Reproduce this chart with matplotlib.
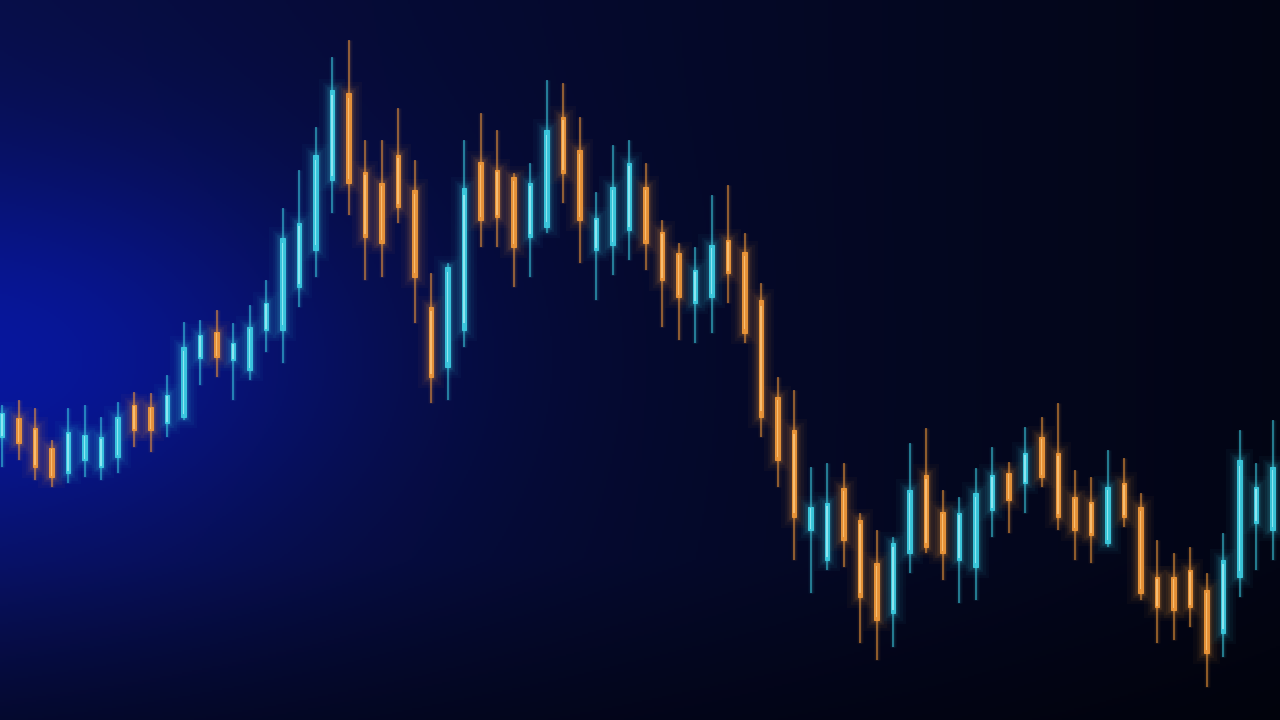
import numpy as np
import matplotlib
matplotlib.use("Agg")
import matplotlib.pyplot as plt

# Candle data (price units = 720 - pixel row of reference), one entry per candle
# "u" = rising (cyan) candle, "d" = falling (orange) candle
direction = ("u d d d u u u u d d  u u u d u u u u u u  "
             "u d d d d d d u u d  d d u u d d u u u d  "
             "d d u u d d d d d u  u d d d u u d d u u  "
             "u d u d d d d u d d  d d d d u u u u").split()
body_top = [413, 418, 428, 448, 432, 435, 437, 417, 405, 407, 395, 347, 335, 332, 343, 327, 303, 238, 223, 155,
            90, 93, 172, 183, 155, 190, 307, 267, 188, 162, 170, 177, 183, 130, 117, 150, 218, 187, 163, 187,
            232, 253, 270, 245, 240, 252, 300, 397, 430, 507, 503, 488, 520, 563, 543, 490, 475, 512, 513, 493,
            475, 473, 453, 437, 453, 497, 502, 487, 483, 507, 577, 577, 570, 590, 560, 460, 487, 467]
body_bot = [437, 443, 467, 477, 473, 460, 467, 457, 430, 430, 423, 417, 358, 357, 360, 370, 330, 330, 287, 250,
            180, 183, 237, 243, 207, 277, 377, 367, 330, 220, 217, 247, 237, 227, 173, 220, 250, 245, 230, 243,
            280, 297, 303, 297, 273, 333, 417, 460, 517, 530, 560, 540, 597, 620, 613, 553, 547, 553, 560, 567,
            510, 500, 483, 477, 517, 530, 535, 543, 517, 593, 607, 610, 607, 653, 633, 577, 523, 530]
wick_top = [405, 400, 408, 440, 408, 405, 417, 402, 392, 393, 375, 322, 320, 310, 323, 305, 280, 208, 170, 127,
            57, 40, 140, 140, 108, 160, 273, 263, 140, 113, 130, 173, 163, 80, 83, 117, 192, 145, 140, 163,
            220, 243, 247, 195, 185, 233, 283, 377, 390, 467, 463, 463, 513, 530, 537, 443, 428, 490, 497, 468,
            447, 462, 427, 417, 403, 470, 477, 450, 458, 493, 540, 553, 547, 573, 533, 430, 463, 420]
wick_bot = [467, 460, 480, 487, 483, 477, 480, 473, 447, 452, 437, 420, 385, 377, 400, 380, 352, 363, 307, 277,
            213, 215, 280, 277, 223, 323, 403, 400, 347, 247, 247, 287, 277, 233, 203, 263, 300, 275, 260, 270,
            327, 340, 343, 333, 303, 343, 437, 487, 560, 593, 570, 567, 643, 660, 647, 573, 553, 580, 603, 600,
            537, 533, 513, 487, 530, 560, 563, 547, 527, 600, 643, 640, 627, 687, 657, 597, 570, 560]

H = 720
n = len(body_top)
x = np.arange(n)
up = np.array([d == "u" for d in direction[:n]])
hi = H - np.array(wick_top)
lo = H - np.array(wick_bot)
btop = H - np.array(body_top)
bbot = H - np.array(body_bot)

fig = plt.figure(figsize=(12.8, 7.2), dpi=100)
ax = fig.add_axes([0, 0, 1, 1])
spacing = 16.5
x0 = 2.0
ax.set_xlim(-x0 / spacing, (1280 - x0) / spacing)
ax.set_ylim(0, H)
ax.axis("off")

# background gradient
gx, gy = np.meshgrid(np.linspace(0, 1280, 640), np.linspace(0, 720, 360))
dark_left = np.array([0.03, 0.055, 0.27])
dark_right = np.array([0.01, 0.02, 0.08])
t = np.clip(gx / 1280.0, 0, 1)[..., None] ** 0.9
base = dark_left * (1 - t) + dark_right * t
top_dark = np.clip(1 - gy / 160.0, 0, 1)[..., None] * 0.4
base = base * (1 - top_dark)
d2 = ((gx + 40) / 380.0) ** 2 + ((gy - 360) / 210.0) ** 2
glow = np.exp(-d2)[..., None]
blue = np.array([0.03, 0.09, 0.62])
img = np.clip(base + glow * (blue - base), 0, 1)
ax.imshow(img, extent=[-x0 / spacing, (1280 - x0) / spacing, H, 0], aspect="auto", zorder=0)

cyan = "#3ed0e4"
cyan_core = "#b0f4fa"
orange = "#f39a3a"
orange_core = "#ffcf88"
cols = np.where(up, cyan, orange)
cores = np.where(up, cyan_core, orange_core)

width = 0.3
bottoms = np.minimum(btop, bbot)
heights = np.abs(btop - bbot)

# glow layers
for lw, a in [(16, 0.035), (11, 0.05), (7, 0.08), (4, 0.12)]:
    ax.vlines(x, lo, hi, colors=cols, linewidth=lw * 0.3, alpha=a, zorder=1)
    ax.bar(x, heights, width, bottom=bottoms, color=cols, edgecolor=cols, linewidth=lw, alpha=a, zorder=2)

# wicks
ax.vlines(x, lo, hi, colors=cols, linewidth=1.3, alpha=0.5, zorder=3)
# bodies
ax.bar(x, heights, width, bottom=bottoms, color=cols, edgecolor=cols, linewidth=0.8, alpha=0.85, zorder=4)
ax.bar(x, heights * 0.9, width * 0.4, bottom=bottoms + heights * 0.05, color=cores, linewidth=0, alpha=0.7, zorder=5)

fig.savefig("out.png", dpi=100, facecolor="black")
